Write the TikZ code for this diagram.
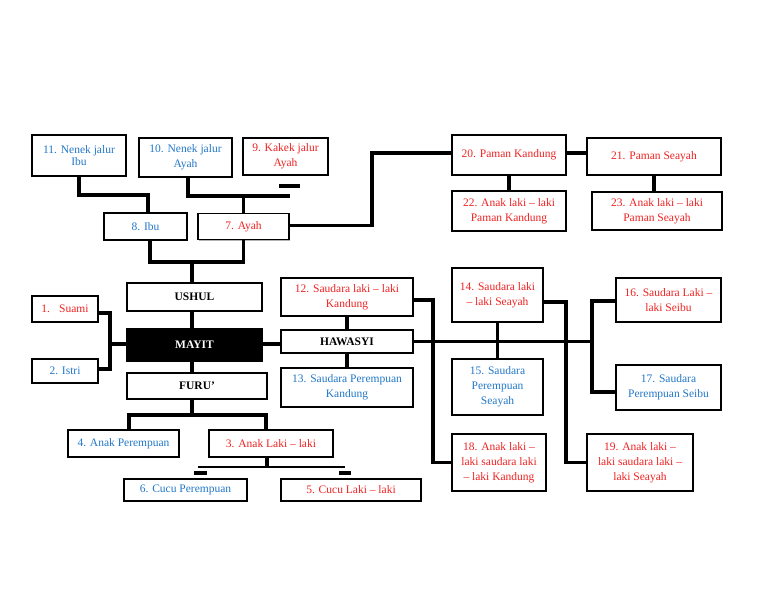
\documentclass[tikz,border=0pt]{standalone}
\usepackage{fontspec}
\setmainfont{Liberation Serif}
\usetikzlibrary{shadows,backgrounds}
\definecolor{tred}{RGB}{240,35,35}
\definecolor{tblue}{RGB}{35,120,200}
\begin{document}
\begin{tikzpicture}[x=1pt,y=-1pt,
  box/.style={draw=black, line width=1.8pt, fill=white, align=center, inner sep=1pt,
    font=\fontsize{11.5}{15}\selectfont,
    drop shadow={shadow xshift=1.3pt, shadow yshift=-1.3pt, opacity=0.3, fill=black}},
  rbox/.style={box, text=tred},
  bbox/.style={box, text=tblue},
  kbox/.style={box, text=black, font=\fontsize{11.5}{15}\selectfont\bfseries},
  conn/.style={line width=3.2pt, draw=black},
  thin/.style={line width=1.5pt, draw=black}]
\useasboundingbox (0,0) rectangle (768,594);

% ---- top left
\node[bbox, font=\fontsize{11.5}{12.5}\selectfont, minimum width=94pt, minimum height=41pt] (n11) at (79,155.5) {11. Nenek jalur\\Ibu};
\node[bbox, minimum width=93pt, minimum height=39pt] (n10) at (185.5,157.5) {10. Nenek jalur\\Ayah};
\node[rbox, minimum width=85pt, minimum height=37pt] (n9) at (285.5,156.5) {9. Kakek jalur\\Ayah};
\node[bbox, minimum width=83pt, minimum height=27pt] (n8) at (145.5,226.5) {8. Ibu};
\node[rbox, minimum width=91pt, minimum height=26pt] (n7) at (243.5,226.5) {7. Ayah};

% ---- top right
\node[rbox, minimum width=114pt, minimum height=40pt] (n20) at (509,155) {20. Paman Kandung};
\node[rbox, minimum width=134pt, minimum height=37pt] (n21) at (654,156.5) {21. Paman Seayah};
\node[rbox, minimum width=114pt, minimum height=40pt] (n22) at (509,211) {22. Anak laki -- laki\\Paman Kandung};
\node[rbox, minimum width=130pt, minimum height=38pt] (n23) at (657,211) {23. Anak laki -- laki\\Paman Seayah};

% ---- centre
\node[rbox, minimum width=66pt, minimum height=26pt] (n1) at (65,309) {1.\hspace{0.8em}Suami};
\node[bbox, minimum width=66pt, minimum height=24pt] (n2) at (65,371) {2. Istri};
\node[kbox, minimum width=135pt, minimum height=28pt] (ushul) at (194.5,297) {USHUL};
\node[kbox, fill=black, text=white, minimum width=135pt, minimum height=32pt] (mayit) at (194.5,345) {MAYIT};
\node[kbox, minimum width=140pt, minimum height=26pt] (furu) at (197,386) {FURU’};
\node[rbox, minimum width=132pt, minimum height=38pt] (n12) at (347,297) {12. Saudara laki -- laki\\Kandung};
\node[kbox, minimum width=132pt, minimum height=23pt] (haw) at (347,341.5) {HAWASYI};
\node[bbox, minimum width=132pt, minimum height=39pt] (n13) at (347,387.5) {13. Saudara Perempuan\\Kandung};
\node[rbox, minimum width=91pt, minimum height=54pt] (n14) at (497.5,295) {14. Saudara laki\\-- laki Seayah};
\node[bbox, minimum width=91pt, minimum height=56pt] (n15) at (497.5,387) {15. Saudara\\Perempuan\\Seayah};
\node[rbox, minimum width=105pt, minimum height=44pt] (n16) at (668.5,300) {16. Saudara Laki --\\laki Seibu};
\node[bbox, minimum width=105pt, minimum height=45pt] (n17) at (668.5,387.5) {17. Saudara\\Perempuan Seibu};
\node[rbox, minimum width=94pt, minimum height=57pt] (n18) at (499,462.5) {18. Anak laki --\\laki saudara laki\\-- laki Kandung};
\node[rbox, minimum width=106pt, minimum height=57pt] (n19) at (640,462.5) {19. Anak laki --\\laki saudara laki --\\laki Seayah};

% ---- bottom
\node[bbox, minimum width=111pt, minimum height=27pt] (n4) at (123.5,443.5) {4. Anak Perempuan};
\node[rbox, minimum width=124pt, minimum height=27pt] (n3) at (271,443.5) {3. Anak Laki -- laki};
\node[bbox, minimum width=123pt, minimum height=22pt] (n6) at (185.5,490) {6. Cucu Perempuan};
\node[rbox, minimum width=140pt, minimum height=22pt] (n5) at (351,490) {5. Cucu Laki -- laki};

% ---- coordinates
\coordinate (c10) at (290,196);
\coordinate (d9a) at (279,186);
\coordinate (d9b) at (300,186);
\coordinate (ju) at (192,262);
\coordinate (jm) at (110,344);
\coordinate (jf) at (192,415);
\coordinate (v18) at (433,400);
\coordinate (v19) at (566,400);
\coordinate (j16) at (592,342);
\coordinate (v20) at (372,190);
\coordinate (t3a) at (198,467);
\coordinate (t3b) at (345,467);
\coordinate (s6a) at (194,473);
\coordinate (s6b) at (207,473);
\coordinate (s5a) at (339,473);
\coordinate (s5b) at (351,473);

% ---- connectors
\begin{scope}[on background layer]
\fill[white] (0,0) rectangle (768,594);
\draw[conn] (n11.south) -- ++(0,18) -| ([xshift=2.5pt]n8.north);
\draw[conn] ([xshift=2.5pt]n10.south) |- (c10);
\draw[conn] (n7.north) -- (n7.north |- c10);
\draw[conn] (d9a) -- (d9b);
\draw[conn] ([xshift=4.5pt]n8.south) |- (ju) -| (n7.south);
\draw[conn] (ju) -- (ju |- ushul.north);
\draw[conn] (ju |- ushul.south) -- (ju |- mayit.north);
\draw[conn] (ju |- mayit.south) -- (ju |- furu.north);
\draw[conn] (ju |- furu.south) -- (jf);
\draw[conn] ([xshift=5.5pt]n4.north) |- (jf) -| ([xshift=-5pt]n3.north);
\draw[conn] ([xshift=-4pt]n3.south) -- ([xshift=-4pt]n3.south |- t3a);
\draw[thin] (t3a) -- (t3b);
\draw[conn] (s6a) -- (s6b);
\draw[conn] (s5a) -- (s5b);
\draw[conn] ([yshift=-4pt]n1.east) -| (jm) |- ([yshift=2pt]n2.east);
\draw[conn] (jm) -- (jm -| mayit.west);
\draw[conn] (mayit.east |- jm) -- (haw.west |- jm);
\draw[conn] (n12.south) -- (haw.north);
\draw[conn] (haw.south) -- (n13.north);
\draw[conn] (haw.east) -- (haw.east -| j16);
\draw[conn] ([yshift=-3pt]n12.east) -| (v18) |- (n18.west);
\draw[conn] (n14.south) -- (n15.north);
\draw[conn] ([yshift=-7pt]n14.east) -| (v19) |- (n19.west);
\draw[conn] ([yshift=-1pt]n16.west) -| (j16) |- ([yshift=-4.5pt]n17.west);
\draw[conn] ([yshift=1pt]n7.east) -| (v20) |- ([yshift=2pt]n20.west);
\draw[conn] ([yshift=2pt]n20.east) -- ([yshift=2pt]n20.east -| n21.west);
\draw[conn] (n20.south) -- (n22.north);
\draw[conn] (n21.south) -- (n21.south |- n23.north);
\end{scope}
\end{tikzpicture}
\end{document}
